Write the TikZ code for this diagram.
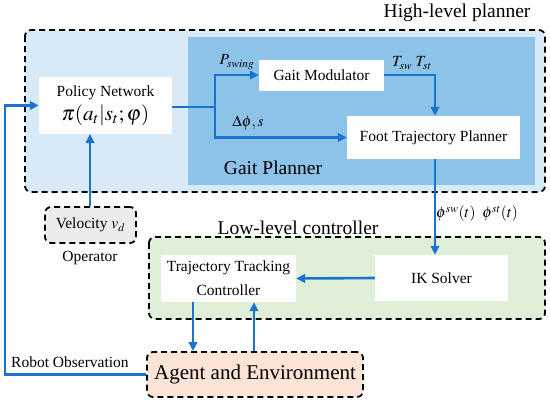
\documentclass[tikz,border=0pt]{standalone}
\usepackage{mathptmx}
\usepackage{fontspec}
\setmainfont{Liberation Serif}
\usetikzlibrary{arrows.meta}

\definecolor{flowblue}{HTML}{1A73CF}
\definecolor{highfill}{HTML}{D8E9F7}
\definecolor{gaitfill}{HTML}{8DC3E8}
\definecolor{lowfill}{HTML}{E0F0D8}
\definecolor{envfill}{HTML}{FBE3D5}
\definecolor{opfill}{HTML}{ECECEC}

\newcommand{\boxfont}{\rmfamily\fontsize{15.5}{19}\selectfont}
\newcommand{\headfont}{\rmfamily\fontsize{19.5}{23}\selectfont}

\begin{document}
\begin{tikzpicture}[x=1pt,y=-1pt,
  block/.style={fill=white, inner sep=0pt, font=\boxfont, align=center},
  dashbox/.style={draw=black, line width=1.8pt, dash pattern=on 6pt off 4pt, rounded corners=6pt},
  flow/.style={draw=flowblue, line width=2.6pt, -{Triangle[length=9pt,width=8.5pt]}},
  lbl/.style={font=\boxfont, inner sep=0pt}]
\useasboundingbox (0,0) rectangle (550,405);

% planner and controller areas
\filldraw[dashbox, fill=highfill] (25,30) rectangle (545,192);
\fill[gaitfill] (188,37) rectangle (535,185);
\filldraw[dashbox, fill=lowfill] (149,237) rectangle (545,319);

\node [font=\headfont, anchor=east] (hltitle) at (534,13) {High-level planner};
\node [font=\headfont] (gptitle) at (273,168) {Gait Planner};
\node [font=\headfont] (lltitle) at (298,228) {Low-level controller};

% blocks
\node [block, minimum width=133pt, minimum height=57pt] (policy) at (105.5,105.5)
  {Policy Network\\[4pt]{\fontsize{21}{21}\selectfont $\pi(a_t|s_t;\varphi)$}};
\node [block, minimum width=125pt, minimum height=31pt] (gaitmod) at (321.5,75) {Gait Modulator};
\node [block, minimum width=173pt, minimum height=43pt] (foot) at (433.5,137.5) {Foot Trajectory Planner};
\node [block, minimum width=133pt, minimum height=46pt] (ik) at (441.5,278) {IK Solver};
\node [block, minimum width=135pt, minimum height=47pt] (ttc) at (228.5,278.5)
  {Trajectory Tracking\\[5pt]Controller};
\node [block, dashbox, fill=envfill, minimum width=216pt, minimum height=45pt,
  font=\rmfamily\fontsize{21}{24}\selectfont] (agent) at (255,374.5) {Agent and Environment};
\node [block, dashbox, fill=opfill, minimum width=91pt, minimum height=36pt] (vel) at (90.5,225)
  {Velocity $v_d$};
\node [lbl] (operator) at (90,258) {Operator};

% signals
\coordinate (split) at (215,107);
\draw [flowblue, line width=2.6pt] (policy.east |- split) -- (split);
\draw [flow] (split) |- (gaitmod.west);
\draw [flow] (split) |- (foot.west);
\draw [flow] (gaitmod.east) -| ([xshift=1.5pt]foot.north);
\draw [flow] ([xshift=1.5pt]foot.south) -- ([xshift=1.5pt]foot.south |- ik.north);
\draw [flow] (ik.west) -- (ttc.east);
\draw [flow] ([xshift=-35.5pt]ttc.south) -- ([xshift=-35.5pt]ttc.south |- agent.north);
\draw [flow] ([xshift=25.5pt]ttc.south |- agent.north) -- ([xshift=25.5pt]ttc.south);
\draw [flow] (agent.west) -- (5,374.5) |- (policy.west);
\draw [flow] (vel.north -| 90,0) -- (90,134);

% signal labels
\node [lbl] (pswing) at (237,62) {$P_{swing}$};
\node [lbl] (tswst) at (412,63) {$T_{sw}\;T_{st}$};
\node [lbl] (dphi) at (248,123) {$\Delta\phi, s$};
\node [lbl] (phit) at (477,214) {$\phi^{sw}(t)\;\;\phi^{st}(t)$};
\node [lbl, anchor=west] (robobs) at (11,362) {Robot Observation};
\end{tikzpicture}
\end{document}
